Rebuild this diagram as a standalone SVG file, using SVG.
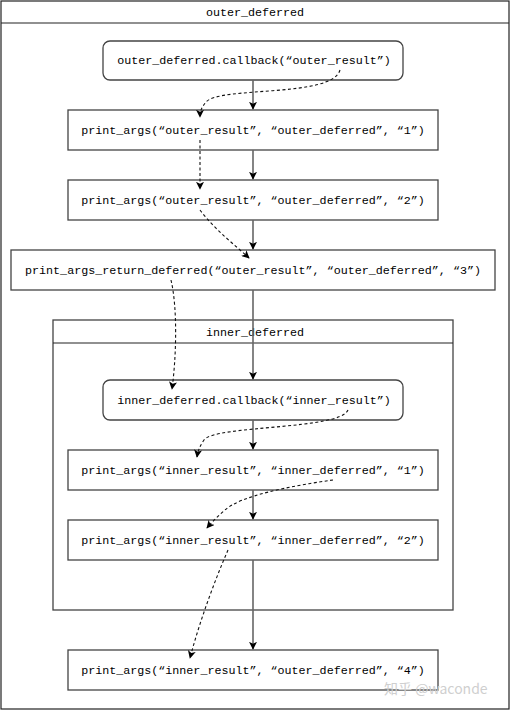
<svg xmlns="http://www.w3.org/2000/svg" width="511" height="711" viewBox="0 0 511 711">
<style>
.t{font-family:"Liberation Mono","Noto Sans CJK SC",monospace;font-size:11.7px;fill:#000;text-anchor:middle;dominant-baseline:central}
.box{fill:#fff;stroke:#444;stroke-width:1.3}
.frame{fill:none;stroke:#222;stroke-width:1.2}
.solid{fill:none;stroke:#666;stroke-width:1.6}
.dash{fill:none;stroke:#111;stroke-width:1.1;stroke-dasharray:3,2.5}
.wm{font-family:"Noto Sans CJK SC","Liberation Sans",sans-serif;font-size:14px;fill:#cfcfcf}
</style>
<defs>
<marker id="ah" viewBox="0 0 10 10" refX="9" refY="5" markerWidth="8" markerHeight="8" markerUnits="userSpaceOnUse" orient="auto">
<path d="M0,0 L10,5 L0,10 L2.5,5 z" fill="#000"/>
</marker>
</defs>
<rect width="511" height="711" fill="#fff"/>
<g id="outer_deferred">
<rect class="frame" x="1" y="1" width="508" height="708"/>
<line class="frame" x1="1" y1="23" x2="509" y2="23"/>
<text class="t" x="255" y="13">outer_deferred</text>
</g>
<g id="inner_deferred">
<rect x="53" y="320" width="400" height="290" fill="none" stroke="#444" stroke-width="1.3"/>
<line x1="53" y1="343" x2="453" y2="343" stroke="#222" stroke-width="1.1"/>
<text class="t" x="255" y="333">inner_deferred</text>
</g>
<g id="n1"><rect class="box" x="103" y="41" width="300" height="39" rx="7"/><text class="t" x="254" y="61">outer_deferred.callback(“outer_result”)</text></g>
<g id="n2"><rect class="box" x="68" y="110" width="370" height="40"/><text class="t" x="253" y="131">print_args(“outer_result”, “outer_deferred”, “1”)</text></g>
<g id="n3"><rect class="box" x="68" y="180" width="370" height="40"/><text class="t" x="253" y="201">print_args(“outer_result”, “outer_deferred”, “2”)</text></g>
<g id="n4"><rect class="box" x="11" y="250" width="484" height="40"/><text class="t" x="253" y="271">print_args_return_deferred(“outer_result”, “outer_deferred”, “3”)</text></g>
<g id="n5"><rect class="box" x="103" y="380" width="300" height="40" rx="7"/><text class="t" x="254" y="401">inner_deferred.callback(“inner_result”)</text></g>
<g id="n6"><rect class="box" x="68" y="450" width="370" height="40"/><text class="t" x="253" y="471">print_args(“inner_result”, “inner_deferred”, “1”)</text></g>
<g id="n7"><rect class="box" x="68" y="520" width="370" height="40"/><text class="t" x="253" y="541">print_args(“inner_result”, “inner_deferred”, “2”)</text></g>
<g id="n8"><rect class="box" x="68" y="650" width="370" height="40"/><text class="t" x="253" y="671">print_args(“inner_result”, “outer_deferred”, “4”)</text></g>
<g id="connectors">
<path class="solid" d="M253,80 V109" marker-end="url(#ah)"/>
<path class="solid" d="M253,150 V179" marker-end="url(#ah)"/>
<path class="solid" d="M253,220 V249" marker-end="url(#ah)"/>
<path class="solid" d="M253,290 V379" marker-end="url(#ah)"/>
<path class="solid" d="M253,420 V449" marker-end="url(#ah)"/>
<path class="solid" d="M253,490 V519" marker-end="url(#ah)"/>
<path class="solid" d="M253,560 V649" marker-end="url(#ah)"/>
<path class="dash" d="M340,70 C332,98 220,86 206,102 C201,108 200,112 200,117" marker-end="url(#ah)"/>
<path class="dash" d="M200,140 V189" marker-end="url(#ah)"/>
<path class="dash" d="M200,210 C215,230 235,245 249,258" marker-end="url(#ah)"/>
<path class="dash" d="M171,280 C178,310 176,360 172,389" marker-end="url(#ah)"/>
<path class="dash" d="M348,410 C340,430 215,425 204,440 C200,446 198,450 197,457" marker-end="url(#ah)"/>
<path class="dash" d="M333,480 C290,486 240,496 225,510 C218,516 212,522 207,528" marker-end="url(#ah)"/>
<path class="dash" d="M228,550 C215,580 200,620 190,658" marker-end="url(#ah)"/>
</g>
<text class="wm" x="384" y="694">知乎 @waconde</text>
</svg>
